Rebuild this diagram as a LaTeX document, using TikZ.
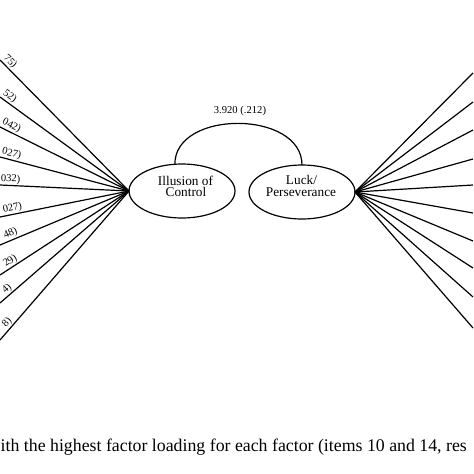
\documentclass[tikz,border=0pt]{standalone}
\usepackage{fontspec}
\setmainfont{Liberation Serif}
\usetikzlibrary{shapes.geometric}
\tikzset{
  factor/.style={draw, ellipse, line width=1.2pt, minimum width=106pt, minimum height=54pt, inner sep=0pt, outer sep=0pt},
  ftext/.style={anchor=base, inner sep=0pt, font=\fontsize{13.3}{12}\selectfont},
  load/.style={line width=1.2pt},
  ltext/.style={sloped, anchor=south east, inner sep=0.8pt, font=\fontsize{10.5}{12}\selectfont},
}
\begin{document}
\begin{tikzpicture}[x=1pt, y=-1pt]
\useasboundingbox (0,0) rectangle (474,474);
\node[factor] (L) at (182,191) {};
\node[factor] (R) at (302,192) {};
\node[ftext] (lt1) at (185.5,185) {Illusion of};
\node[ftext] (lt2) at (186,196.7) {Control};
\node[ftext] (rt1) at (301.5,184) {Luck/};
\node[ftext] (rt2) at (301,196.5) {Perseverance};
% covariance arc
\draw[line width=1.2pt] (L.105) .. controls +(0,-55) and +(0,-55) .. (R.north);
\node[anchor=base, inner sep=0pt, font=\fontsize{10.6}{12}\selectfont] (cov) at (240,113) {3.920 (.212)};
% left loadings
\coordinate (l1) at (0,60);
\coordinate (l2) at (0,97);
\coordinate (l3) at (0,127);
\coordinate (l4) at (0,157);
\coordinate (l5) at (0,185);
\coordinate (l6) at (0,217);
\coordinate (l7) at (0,245);
\coordinate (l8) at (0,275);
\coordinate (l9) at (0,303);
\coordinate (l10) at (0,340);
\draw[load] (l1) -- (L.west) node[ltext, pos=0.09] (a1) {75)};
\draw[load] (l2) -- (L.west) node[ltext, pos=0.10] (a2) {52)};
\draw[load] (l3) -- (L.west) node[ltext, pos=0.145] (a3) {042)};
\draw[load] (l4) -- (L.west) node[ltext, pos=0.16] (a4) {027)};
\draw[load] (l5) -- (L.west) node[ltext, pos=0.165] (a5) {032)};
\draw[load] (l6) -- (L.west) node[ltext, pos=0.19] (a6) {027)};
\draw[load] (l7) -- (L.west) node[ltext, pos=0.16] (a7) {48)};
\draw[load] (l8) -- (L.west) node[ltext, pos=0.16] (a8) {29)};
\draw[load] (l9) -- (L.west) node[ltext, pos=0.12] (a9) {4)};
\draw[load] (l10) -- (L.west) node[ltext, pos=0.12] (a10) {8)};
% right loadings
\coordinate (r1) at (473,73);
\coordinate (r2) at (473,102);
\coordinate (r3) at (473,130);
\coordinate (r4) at (473,159);
\coordinate (r5) at (473,185);
\coordinate (r6) at (473,213);
\coordinate (r7) at (473,241);
\coordinate (r8) at (473,268);
\coordinate (r9) at (473,297);
\coordinate (r10) at (473,328);
\foreach \i in {1,...,10} {\draw[load] (R.east) -- (r\i);}
% caption
\node[anchor=base west, inner sep=0pt, font=\fontsize{17.8}{20}\selectfont] (cap) at (0.5,451) {ith the highest factor loading for each factor (items 10 and 14, res};
\end{tikzpicture}
\end{document}
